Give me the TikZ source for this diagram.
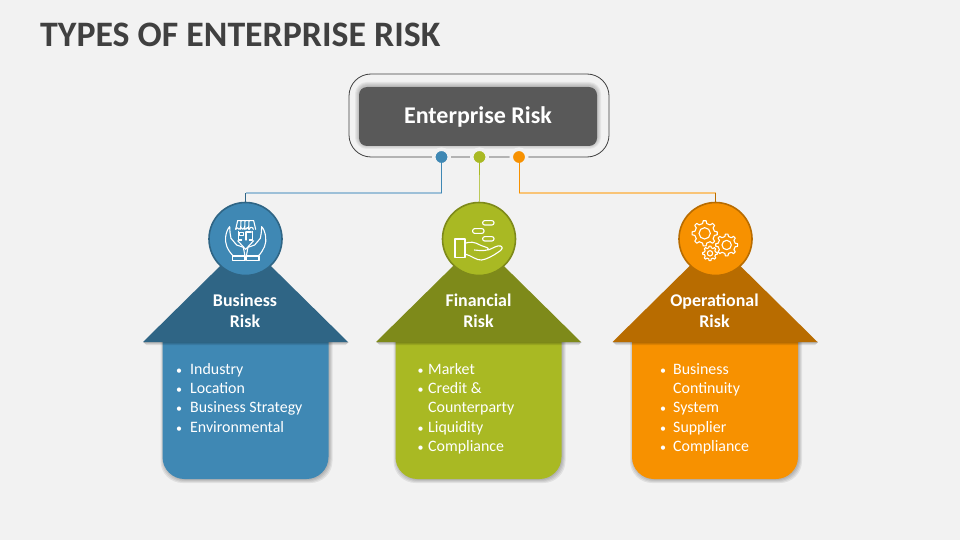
\documentclass[tikz,border=0pt]{standalone}
\usepackage{fontspec}
\setmainfont{Carlito}
\definecolor{bggray}{HTML}{F2F2F2}
\definecolor{boxgray}{HTML}{595959}
\definecolor{titlegray}{HTML}{404040}
\definecolor{bluemain}{HTML}{3F88B4}
\definecolor{bluedark}{HTML}{2F6585}
\definecolor{bluelight}{HTML}{9DC0D8}
\definecolor{greenmain}{HTML}{A9B923}
\definecolor{greendark}{HTML}{7E8A1A}
\definecolor{greenlight}{HTML}{BCC95A}
\definecolor{orangemain}{HTML}{F79100}
\definecolor{orangedark}{HTML}{B86C00}
\definecolor{orangelight}{HTML}{F9C477}
\tikzset{
	riskframe/.style={draw=titlegray, line width=0.8pt, rounded corners=22pt, minimum width=260pt, minimum height=83pt, inner sep=0pt},
	riskbox/.style={fill=boxgray, rounded corners=8pt, minimum width=238pt, minimum height=59pt, inner sep=0pt, text=white, font=\bfseries\fontsize{24}{28}\selectfont},
	riskdot/.style={circle, fill=#1, draw=bggray, line width=3.5pt, minimum size=15.5pt, inner sep=0pt},
	riskcircle/.style={circle, minimum size=73pt, inner sep=0pt, line width=1.6pt},
	riskhead/.style={align=center, text=white, font=\bfseries\fontsize{17.9}{21}\selectfont},
	risklist/.style={anchor=north west, align=left, text=white, inner sep=0pt, font=\fontsize{15.9}{19.3}\selectfont},
	iconline/.style={draw=white, line width=1.1pt, line join=round, line cap=round},
	link/.style={line width=1pt},
	linkwide/.style={line width=1.8pt},
}
\newcommand{\riskitem}[2][10.5pt]{\makebox[#1][l]{\fontsize{12}{12}\selectfont\textbullet}#2}
\newcommand{\gearshape}[5]{%
	\begin{scope}[shift={#1}]
		\draw[iconline] (-#5:#3) \foreach \t in {1,...,#4} {
			-- ({360/#4*(\t-1)-#5*0.55}:#2) -- ({360/#4*(\t-1)+#5*0.55}:#2)
			-- ({360/#4*(\t-1)+#5}:#3) -- ({360/#4*\t-#5}:#3)
		} -- cycle;
	\end{scope}
}
\begin{document}
\begin{tikzpicture}[x=1pt, y=-1pt]

	% ---- page

	\fill[bggray] (0,0) rectangle (960,540);
	\useasboundingbox (0,0) rectangle (960,540);

	% ---- title

	\node[anchor=base west, inner sep=0pt, text=titlegray, font=\bfseries\fontsize{35.8}{40}\selectfont] (title) at (40,47) {TYPES OF ENTERPRISE RISK};

	% ---- top box

	\node[riskframe] (frame) at (479,115.5) {};
	\foreach \g in {1,...,4} {
		\draw[black, opacity=0.05, line width=2*\g pt, rounded corners=8pt] (359,86) rectangle (597,145);
	}
	\node[riskbox] (enterprise) at (478,116.5) {Enterprise Risk};

	% ---- houses

	\foreach \cx/\main/\dark in {245.5/bluemain/bluedark, 478.5/greenmain/greendark, 715/orangemain/orangedark} {
		\foreach \s in {0,1,2,3} {
			\fill[black, opacity=0.07, rounded corners=22pt] (\cx-83-\s+1,315) rectangle (\cx+83+\s+1,479+\s+1);
		}
		\fill[\main, rounded corners=22pt] (\cx-83,315) rectangle (\cx+83,479);
		\foreach \s in {0,1,2,3} {
			\fill[black, opacity=0.09] (\cx-102,342) -- (\cx+103,342) -- (\cx+103-\s,342+\s) -- (\cx-102+\s,342+\s) -- cycle;
		}
		\fill[\dark] (\cx,241) -- (\cx+102.5,342) -- (\cx-102.5,342) -- cycle;
	}

	% ---- circles

	\node[riskcircle, fill=bluemain, draw=bluedark] (circ1) at (245.5,239) {};
	\node[riskcircle, fill=greenmain, draw=greendark] (circ2) at (479,239) {};
	\node[riskcircle, fill=orangemain, draw=orangedark] (circ3) at (715.5,239) {};

	% ---- dots and links

	\node[riskdot=bluemain] (dot1) at (441.5,157) {};
	\node[riskdot=greenmain] (dot2) at (479.5,157) {};
	\node[riskdot=orangemain] (dot3) at (519,157) {};

	\coordinate (bend1) at (245.5,193);
	\coordinate (corner1) at (441.5,193);
	\coordinate (fade2) at (479.5,175);
	\coordinate (bend3) at (715.5,193);
	\coordinate (corner3) at (519,193);

	\draw[linkwide, draw=bluelight] (corner1) -- (bend1);
	\draw[link, draw=bluemain] (dot1.center) -- (corner1);
	\draw[link, draw=bluedark] (bend1) -- (circ1.north);
	\draw[linkwide, draw=greenlight] (fade2) -- (fade2 |- circ2.north);
	\draw[link, draw=greenmain] (dot2.center) -- (fade2);
	\draw[linkwide, draw=orangelight] (corner3) -- (bend3);
	\draw[link, draw=orangemain] (dot3.center) -- (corner3);
	\draw[link, draw=orangedark] (bend3) -- (circ3.north);

	% ---- icon: hands and shop

	\begin{scope}[shift={(190,190)}, x=0.3333pt, y=-0.3333pt]
		\draw[iconline] (137,118) -- (143,92) -- (191,92) -- (197,118);
		\draw[iconline] (137,118) arc (180:360:5) arc (180:360:5.5) arc (180:360:4.5) arc (180:360:5.5) arc (180:360:6);
		\foreach \ax in {153,165,177} {
			\draw[iconline] (\ax,92) -- (\ax-1,118);
		}
		\draw[iconline] (146,124) -- (146,150) -- (155,150);
		\draw[iconline] (188,124) -- (188,150) -- (178,150);
		\draw[iconline] (149,127) rectangle (161,137);
		\draw[iconline] (168,126) -- (168,150);
		\draw[iconline] (184,126) -- (168,126);
		\draw[iconline] (128,198) rectangle (165,212);
		\draw[iconline] (169,198) rectangle (207,212);
		\draw[iconline] (130,198) .. controls (112,180) and (104,160) .. (107,140) .. controls (109,125) and (114,115) .. (119,110) .. controls (120,125) and (120,135) .. (123,145);
		\draw[iconline] (205,198) .. controls (222,180) and (230,160) .. (227,140) .. controls (225,125) and (220,115) .. (215,110) .. controls (214,125) and (214,135) .. (211,145);
		\draw[iconline] (123,145) -- (140,165) -- (160,172) -- (165,198);
		\draw[iconline] (211,145) -- (194,165) -- (174,172) -- (169,198);
		\draw[iconline] (143,152) -- (167,178) -- (191,152);
	\end{scope}

	% ---- icon: hand and coins

	\begin{scope}[shift={(425,190)}, x=0.3333pt, y=-0.3333pt]
		\draw[iconline] (90,147) rectangle (120,202);
		\draw[iconline, rounded corners=2pt] (173,92) rectangle (207,105);
		\draw[iconline, rounded corners=2pt] (143,116) rectangle (177,130);
		\draw[iconline, rounded corners=2pt] (173,140) rectangle (207,153);
		\draw[iconline] (120,160) .. controls (135,154) and (150,156) .. (165,165) .. controls (175,170) and (190,172) .. (190,177) .. controls (190,182) and (170,183) .. (148,180);
		\draw[iconline] (190,180) .. controls (205,174) and (218,165) .. (227,168) .. controls (236,172) and (230,180) .. (222,185) .. controls (205,197) and (185,208) .. (170,210) .. controls (155,212) and (140,197) .. (120,192);
	\end{scope}

	% ---- icon: gears

	\begin{scope}[shift={(660,190)}, x=0.3333pt, y=-0.3333pt]
		\gearshape{(134,130)}{38}{30}{8}{12}
		\gearshape{(200,165)}{33}{26}{8}{12}
		\gearshape{(150,190)}{22}{17}{8}{13}
		\draw[iconline] (134,130) circle (17);
		\draw[iconline] (200,165) circle (14);
		\draw[iconline] (150,190) circle (8);
	\end{scope}

	% ---- heads

	\node[riskhead] (head1) at (245,310.5) {Business\\Risk};
	\node[riskhead] (head2) at (478.5,310.5) {Financial\\Risk};
	\node[riskhead] (head3) at (714.5,310.5) {Operational\\Risk};

	% ---- lists

	\node[risklist] (list1) at (176,363) {\riskitem[14pt]{Industry}\\\riskitem[14pt]{Location}\\\riskitem[14pt]{Business Strategy}\\\riskitem[14pt]{Environmental}};
	\node[risklist] (list2) at (417.5,363) {\riskitem{Market}\\\riskitem{Credit \&}\\\hspace*{10.5pt}Counterparty\\\riskitem{Liquidity}\\\riskitem{Compliance}};
	\node[risklist] (list3) at (660,363) {\riskitem[13pt]{Business}\\\hspace*{13pt}Continuity\\\riskitem[13pt]{System}\\\riskitem[13pt]{Supplier}\\\riskitem[13pt]{Compliance}};

\end{tikzpicture}
\end{document}
